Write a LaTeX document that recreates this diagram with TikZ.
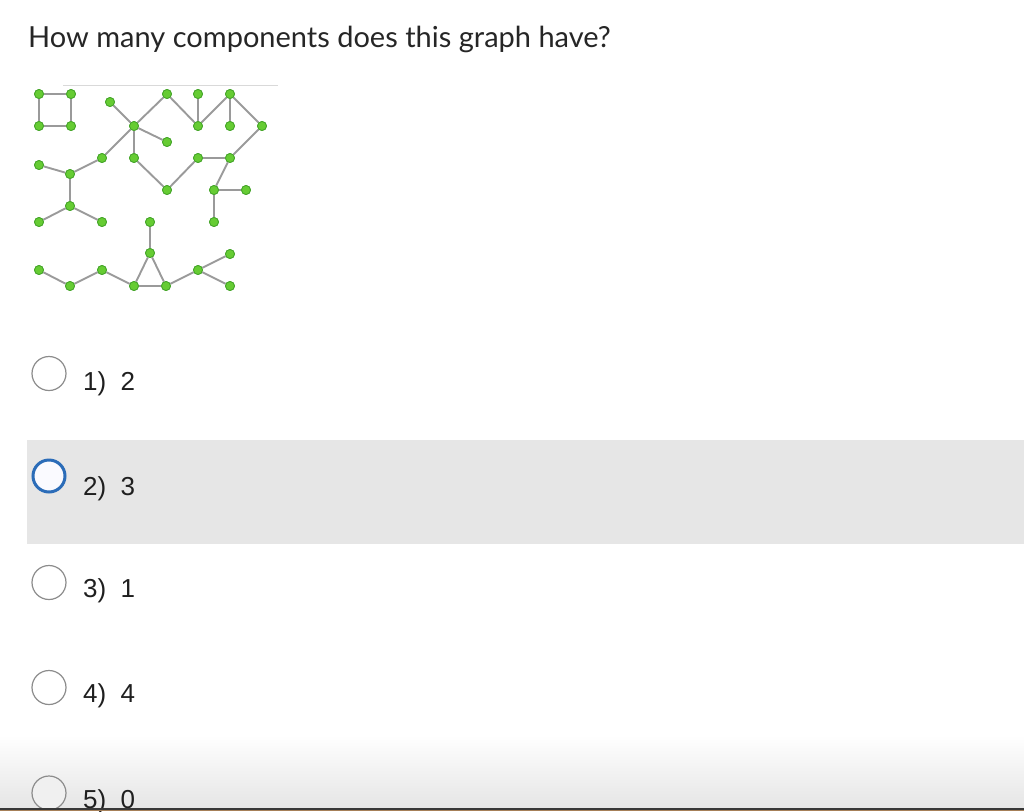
\documentclass[tikz,border=0pt]{standalone}
\usepackage{fontspec}
\setmainfont{Liberation Sans}
\newfontfamily\titlefont{Lato}
\usepackage{tikz}
\definecolor{vfill}{HTML}{66CC33}
\definecolor{vdraw}{HTML}{45A52A}
\definecolor{edgegray}{HTML}{9A9A9A}
\definecolor{bandgray}{HTML}{E6E6E6}
\definecolor{radioblue}{HTML}{2B6CB8}
\tikzset{vtx/.style={draw=vdraw,fill=vfill,circle,minimum size=9pt,inner sep=0pt,line width=0.8pt}}
\tikzset{edge/.style={draw=edgegray,line width=1.9pt}}
\tikzset{radio/.style={draw=gray!90,fill=white,line width=1.2pt}}
\tikzset{answer/.style={anchor=base west,inner sep=0pt,text=black!88,font=\fontsize{26}{30}\selectfont}}

\begin{document}
\begin{tikzpicture}[x=1pt,y=-1pt]
            \useasboundingbox (0,0) rectangle (1024,811);
            % question
            \node[anchor=base west,inner sep=0pt,text=black!85,font=\titlefont\fontsize{29}{33}\selectfont] (q) at (28,47) {How many components does this graph have?};

            % picture frame top line
            \coordinate (fl) at (63,85);
            \coordinate (fr) at (278,85);
            \draw[black!15,line width=0.8pt] (fl) -- (fr);

            % square
            \node[vtx] (a1) at (39,94) {};
            \node[vtx] (a2) at (71,94) {};
            \node[vtx] (a3) at (39,126) {};
            \node[vtx] (a4) at (71,126) {};

            % big tree with cycle
            \node[vtx] (b1) at (110,102) {};
            \node[vtx] (h) at (134,126) {};
            \node[vtx] (t1) at (167,94) {};
            \node[vtx] (t2) at (198,94) {};
            \node[vtx] (t3) at (198,126) {};
            \node[vtx] (t4) at (230,94) {};
            \node[vtx] (t5) at (230,126) {};
            \node[vtx] (t6) at (262,126) {};
            \node[vtx] (c1) at (167,142) {};
            \node[vtx] (m1) at (198,158) {};
            \node[vtx] (m2) at (230,158) {};
            \node[vtx] (hd) at (134,158) {};
            \node[vtx] (v1) at (167,190) {};
            \node[vtx] (l1) at (102,158) {};
            \node[vtx] (l2) at (70,174) {};
            \node[vtx] (l3) at (39,165) {};
            \node[vtx] (l4) at (70,206) {};
            \node[vtx] (l5) at (39,222) {};
            \node[vtx] (l6) at (102,222) {};
            \node[vtx] (r1) at (214,190) {};
            \node[vtx] (r2) at (246,190) {};
            \node[vtx] (r3) at (214,222) {};

            % bottom chain with triangle
            \node[vtx] (p1) at (39,270) {};
            \node[vtx] (p2) at (70,286) {};
            \node[vtx] (p3) at (102,270) {};
            \node[vtx] (p4) at (134,286) {};
            \node[vtx] (q1) at (150,222) {};
            \node[vtx] (q2) at (150,253) {};
            \node[vtx] (p5) at (166,286) {};
            \node[vtx] (s1) at (198,270) {};
            \node[vtx] (s2) at (230,254) {};
            \node[vtx] (s3) at (230,286) {};

            % edges
            \draw[edge] (a1) -- (a2) -- (a4) -- (a3) -- (a1);
            \draw[edge] (b1) -- (h) -- (t1) -- (t3) -- (t4) -- (t6) -- (m2) -- (m1) -- (v1) -- (hd) -- (h);
            \draw[edge] (t3) -- (t2);
            \draw[edge] (t4) -- (t5);
            \draw[edge] (h) -- (c1);
            \draw[edge] (h) -- (l1) -- (l2) -- (l3);
            \draw[edge] (l2) -- (l4) -- (l5);
            \draw[edge] (l4) -- (l6);
            \draw[edge] (m2) -- (r1) -- (r2);
            \draw[edge] (r1) -- (r3);
            \draw[edge] (p1) -- (p2) -- (p3) -- (p4) -- (q2) -- (p5) -- (p4);
            \draw[edge] (q2) -- (q1);
            \draw[edge] (p5) -- (s1) -- (s2);
            \draw[edge] (s1) -- (s3);
            % redraw vertices over edges
            \foreach \v in {a1,a2,a3,a4,b1,h,t1,t2,t3,t4,t5,t6,c1,m1,m2,hd,v1,l1,l2,l3,l4,l5,l6,r1,r2,r3,p1,p2,p3,p4,q1,q2,p5,s1,s2,s3}
                \draw[draw=vdraw,fill=vfill,line width=0.8pt] (\v) circle (4.5);

            % answers
            \fill[bandgray] (27,440) rectangle (1024,544);
            \fill[top color=white,bottom color=black!10,draw=none] (0,735) rectangle (1024,808);

            \draw[radio] (49,373.5) circle (17);
            \node[answer] (o1) at (83,390) {1)\ \ 2};
            \draw[radioblue,fill=blue!2,line width=3pt] (49,476) circle (16);
            \node[answer] (o2) at (83,495) {2)\ \ 3};
            \draw[radio] (49,582.5) circle (17);
            \node[answer] (o3) at (83,597) {3)\ \ 1};
            \draw[radio] (49,687.5) circle (17);
            \node[answer] (o4) at (83,702) {4)\ \ 4};
            \draw[radio,fill=black!6] (49,793) circle (17);
            \node[answer] (o5) at (83,808) {5)\ \ 0};

            % bottom edge
            \fill[black!78] (0,807.5) rectangle (1024,809.5);
            \fill[brown!60!gray] (0,809.5) rectangle (1024,811);
\end{tikzpicture}
\end{document}
